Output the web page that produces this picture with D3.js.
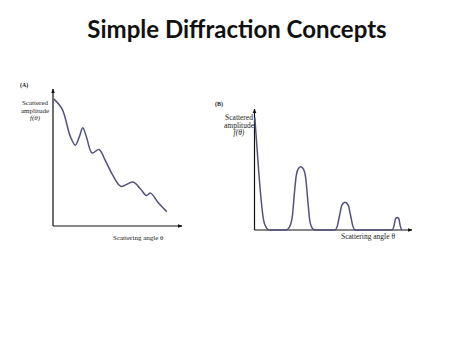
<!DOCTYPE html>
<html>
<head>
<meta charset="utf-8">
<script src="https://cdn.jsdelivr.net/npm/d3@7"></script>
<style>
  body { margin: 0; background: #fff; }
  .lbl { font-family: "Liberation Serif", serif; font-size: 7px; fill: #222; }
</style>
</head>
<body>
<script>
// panel A: decaying wavy amplitude (x = angle units, y = amplitude units)
const curveA = [
    [0.8, 92.6], [7.1, 85.3], [13.4, 65.4], [17.3, 59], [20.5, 65.4],
    [23.1, 71.7], [26, 64.7], [30.3, 53.3], [35.7, 55.9], [40.2, 48.5],
    [46.5, 36.8], [52.8, 28.9], [62, 32.1], [67.7, 27.2], [72.4, 22.3],
    [75.6, 24], [81.1, 17.6], [88.2, 10.5]
];

// panel B: separate diffraction peaks
const curveB = [
    [0.2, 93], [1.2, 75], [2.6, 50], [4.2, 25], [5.8, 8], [7.5, 2], [9.2, 0],
    [20, 0], [22, 2], [24, 11], [25.3, 30], [26.5, 45], [28, 51], [29.5, 52.3],
    [31, 50.5], [32.5, 43], [33.8, 25], [35.2, 7], [37, 1], [38.5, 0],
    [51, 0], [52.5, 3], [54, 12], [55.5, 20.5], [57.5, 23], [59.5, 20.5],
    [61, 12], [62.5, 3], [64, 0],
    [87.5, 0], [88.5, 3], [89.6, 9.5], [90.6, 10.3], [91.6, 9.5], [92.6, 3], [93.5, 0]
];

const axisLabelY = ["Scattered", "amplitude", "f(\u03b8)"];
const axisLabelX = "Scattering angle \u03b8";

const W = 474, H = 355;
const svg = d3.select("body").append("svg")
    .attr("width", W)
    .attr("height", H);

svg.append("text")
    .attr("x", 237)
    .attr("y", 38)
    .attr("text-anchor", "middle")
    .style("font-family", "Lato, 'Open Sans', sans-serif")
    .style("font-weight", "bold")
    .style("font-size", "24px")
    .style("fill", "#111")
    .text("Simple Diffraction Concepts");

svg.append("defs").append("marker")
    .attr("id", "arrow")
    .attr("viewBox", "0 0 10 10")
    .attr("refX", 9).attr("refY", 5)
    .attr("markerWidth", 4).attr("markerHeight", 4)
    .attr("orient", "auto")
    .append("path")
    .attr("d", "M0,1 L10,5 L0,9 Z")
    .style("fill", "#111");

function panel(cfg) {
    var x = d3.scaleLinear().domain([0, 100]).range([cfg.left, cfg.right]);
    var y = d3.scaleLinear().domain([0, 100]).range([cfg.bottom, cfg.top]);
    var g = svg.append("g");

    // axes drawn as plain lines with arrow heads
    g.append("line")
        .attr("x1", x(0)).attr("y1", y(0))
        .attr("x2", x(0)).attr("y2", y(100))
        .attr("stroke", "#111").attr("stroke-width", 1.2)
        .attr("marker-end", "url(#arrow)");
    g.append("line")
        .attr("x1", x(0)).attr("y1", y(0))
        .attr("x2", x(100)).attr("y2", y(0))
        .attr("stroke", "#111").attr("stroke-width", 1.2)
        .attr("marker-end", "url(#arrow)");

    var line = d3.line()
        .x(function(d) { return x(d[0]); })
        .y(function(d) { return y(d[1]); })
        .curve(cfg.curve);

    g.append("path")
        .datum(cfg.data)
        .attr("d", line)
        .attr("fill", "none")
        .attr("stroke", "#52527a")
        .attr("stroke-width", 1.5);

    g.append("text")
        .attr("class", "lbl")
        .attr("x", cfg.tagX).attr("y", cfg.tagY)
        .style("font-size", "6px")
        .style("font-weight", "bold")
        .text(cfg.tag);

    g.selectAll(".ylab")
        .data(axisLabelY)
        .enter()
        .append("text")
        .attr("class", "lbl")
        .attr("x", cfg.labX)
        .attr("y", function(d, i) { return cfg.labY + i * 7.5; })
        .attr("text-anchor", "middle")
        .style("font-size", cfg.labSize)
        .style("font-style", function(d, i) { return i == 2 ? "italic" : "normal"; })
        .text(function(d) { return d; });

    g.append("text")
        .attr("class", "lbl")
        .attr("x", cfg.xlabX).attr("y", cfg.xlabY)
        .style("font-size", cfg.labSize)
        .text(axisLabelX);
}

panel({
    data: curveA, curve: d3.curveCatmullRom,
    left: 53, right: 182, top: 89, bottom: 226,
    tag: "(A)", tagX: 20, tagY: 87,
    labX: 35, labY: 105, labSize: "7px",
    xlabX: 113, xlabY: 240
});

panel({
    data: curveB, curve: d3.curveMonotoneX,
    left: 254.5, right: 412, top: 109, bottom: 230,
    tag: "(B)", tagX: 215, tagY: 106,
    labX: 239, labY: 120, labSize: "7.5px",
    xlabX: 341, xlabY: 239
});
</script>
</body>
</html>
